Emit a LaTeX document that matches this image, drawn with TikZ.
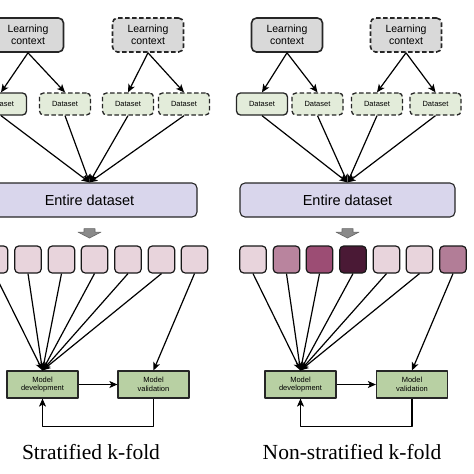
\documentclass[tikz,border=0pt]{standalone}
\usepackage{fontspec}
\setmainfont{Liberation Serif}
\setsansfont{Liberation Sans}
\usepackage{xcolor}
\usepackage{tikz}
\usetikzlibrary{arrows.meta}
\definecolor{ctxgray}{HTML}{D9D9D9}
\definecolor{dsgreen}{HTML}{E3ECDA}
\definecolor{entlav}{HTML}{D9D6EC}
\definecolor{mdlgreen}{HTML}{B8D0A3}
\definecolor{pinkA}{HTML}{E8D4DC}
\definecolor{pinkB}{HTML}{B9849E}
\definecolor{pinkC}{HTML}{9C4D74}
\definecolor{pinkD}{HTML}{4A1935}
\definecolor{pinkE}{HTML}{B27D97}
\definecolor{arrgray}{HTML}{8A8A8A}

\begin{document}
\begin{tikzpicture}[x=1pt,y=-1pt,line join=round,
  ctx/.style={draw=black!85,line width=1.6pt,rounded corners=5pt,fill=ctxgray,
    minimum width=71pt,minimum height=34pt,inner sep=0pt,align=center,
    font=\sffamily\fontsize{10.5}{12}\selectfont},
  dset/.style={draw=black!85,line width=1.3pt,rounded corners=4pt,fill=dsgreen,
    minimum width=51pt,minimum height=22pt,inner sep=0pt,
    font=\sffamily\fontsize{7.5}{9}\selectfont},
  dashbox/.style={dash pattern=on 4.5pt off 2.5pt},
  whole/.style={draw=black!85,line width=1.1pt,rounded corners=5pt,fill=entlav,
    minimum width=215pt,minimum height=34pt,inner sep=0pt,
    font=\sffamily\fontsize{14.5}{17}\selectfont},
  fold/.style={draw=black!90,line width=1.2pt,rounded corners=4pt,
    minimum width=26.5pt,minimum height=27pt,inner sep=0pt},
  mdl/.style={draw=black!85,line width=1.2pt,fill=mdlgreen,
    minimum width=71pt,minimum height=27pt,inner sep=0pt,align=center,
    font=\sffamily\fontsize{7.5}{8.7}\selectfont},
  ttl/.style={font=\fontsize{21.5}{24}\selectfont},
  flow/.style={line width=1.2pt,-{Stealth[length=8pt,width=7pt,inset=2pt]}},
  blockarr/.style={fill=arrgray,draw=black!60,line width=0.6pt}]
\clip (0,0) rectangle (474,474);

% ---- stratified (left) ----
\node[ctx] (lcLa) at (28,35) {Learning\\context};
\node[ctx,dashbox] (lcLb) at (148,35) {Learning\\context};
\node[dset] (dsLa) at (1,104) {Dataset};
\node[dset,dashbox] (dsLb) at (65,104) {Dataset};
\node[dset,dashbox] (dsLc) at (128,104) {Dataset};
\node[dset,dashbox] (dsLd) at (184,104) {Dataset};
\draw[flow] (lcLa.south) -- (dsLa.north);
\draw[flow] (lcLa.south) -- (dsLb.north);
\draw[flow] (lcLb.south) -- (dsLc.north);
\draw[flow] (lcLb.south) -- (dsLd.north);
\node[whole] (entL) at (89.5,200) {Entire dataset};
\foreach \d in {dsLa,dsLb,dsLc,dsLd} \draw[flow] (\d.south) -- (entL.north);
\draw[blockarr,shift={(entL.south)}] (-5.5,11) -- (5.5,11) -- (5.5,14.5)
  -- (11.5,14.5) -- (0,20.5) -- (-11.5,14.5) -- (-5.5,14.5) -- cycle;
\foreach \i/\cx in {1/-5.5,2/28,3/61.5,4/94.5,5/128,6/161.5,7/194.5}
  \node[fold,fill=pinkA] (fL\i) at (\cx,259.5) {};
\node[mdl] (devL) at (42.5,384.5) {Model\\development};
\node[mdl] (valL) at (153.5,384.5) {Model\\validation};
\foreach \i in {1,...,6} \draw[flow] (fL\i.south) -- (devL.north);
\draw[flow] (fL7.south) -- (valL.north);
\draw[flow] (devL.east) -- (valL.west);
\draw[flow] (valL.south) -- ++(0,28) -| (devL.south);
\node[ttl] (ttlL) at (91,452) {Stratified k-fold};

% ---- non-stratified (right) ----
\node[ctx] (lcRa) at (287,35) {Learning\\context};
\node[ctx,dashbox] (lcRb) at (406,35) {Learning\\context};
\node[dset] (dsRa) at (262,104) {Dataset};
\node[dset,dashbox] (dsRb) at (317.5,104) {Dataset};
\node[dset,dashbox] (dsRc) at (377,104) {Dataset};
\node[dset,dashbox] (dsRd) at (435.5,104) {Dataset};
\draw[flow] (lcRa.south) -- (dsRa.north);
\draw[flow] (lcRa.south) -- (dsRb.north);
\draw[flow] (lcRb.south) -- (dsRc.north);
\draw[flow] (lcRb.south) -- (dsRd.north);
\node[whole] (entR) at (347.5,200) {Entire dataset};
\foreach \d in {dsRa,dsRb,dsRc,dsRd} \draw[flow] (\d.south) -- (entR.north);
\draw[blockarr,shift={(entR.south)}] (-5.5,11) -- (5.5,11) -- (5.5,14.5)
  -- (11.5,14.5) -- (0,20.5) -- (-11.5,14.5) -- (-5.5,14.5) -- cycle;
\foreach \i/\cx/\col in {1/253/pinkA,2/286.5/pinkB,3/319.5/pinkC,4/353/pinkD,
    5/386.5/pinkA,6/419.5/pinkA,7/453/pinkE}
  \node[fold,fill=\col] (fR\i) at (\cx,259.5) {};
\node[mdl] (devR) at (300.5,384.5) {Model\\development};
\node[mdl] (valR) at (412,384.5) {Model\\validation};
\foreach \i in {1,...,6} \draw[flow] (fR\i.south) -- (devR.north);
\draw[flow] (fR7.south) -- (valR.north);
\draw[flow] (devR.east) -- (valR.west);
\draw[flow] (valR.south) -- ++(0,28) -| (devR.south);
\node[ttl] (ttlR) at (352,452) {Non-stratified k-fold};
\end{tikzpicture}
\end{document}
